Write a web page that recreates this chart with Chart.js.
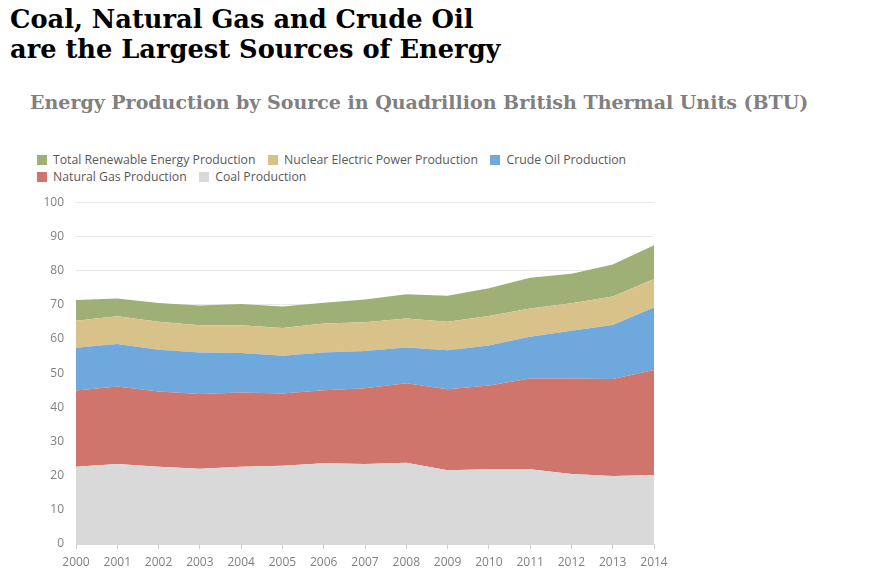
<!DOCTYPE html>
<html>
<head>
<meta charset="utf-8">
<script src="https://cdn.jsdelivr.net/npm/chart.js@4"></script>
<style>
  html, body { margin: 0; padding: 0; background: #fff; }
  body { width: 881px; height: 579px; position: relative; overflow: hidden; }
  #title {
    position: absolute; left: 10px; top: 4px;
    font: bold 25.7px/30px "DejaVu Serif", Georgia, serif; color: #000;
  }
  #subtitle {
    position: absolute; left: 30px; top: 90px;
    font: bold 19px/24px "DejaVu Serif", Georgia, serif; color: #808080;
  }
  #legend {
    position: absolute; left: 37px; top: 151px; width: 610px;
    font: 12.25px/17px "Open Sans", sans-serif; color: #595959;
    display: flex; flex-wrap: wrap;
  }
  #legend .item { display: flex; align-items: center; margin-right: 12.5px; white-space: nowrap; }
  #legend .box { width: 10px; height: 10px; margin-right: 6px; }
  #wrap { position: absolute; left: 30px; top: 183px; width: 650px; height: 391px; }
</style>
</head>
<body>
<div id="title">Coal, Natural Gas and Crude Oil<br>are the Largest Sources of Energy</div>
<div id="subtitle">Energy Production by Source in Quadrillion British Thermal Units (BTU)</div>
<div id="legend"></div>
<div id="wrap"><canvas id="chart"></canvas></div>
<script>
const years = ['2000','2001','2002','2003','2004','2005','2006','2007','2008','2009','2010','2011','2012','2013','2014']
const coal = [22.6, 23.4, 22.6, 22.0, 22.6, 22.9, 23.6, 23.4, 23.8, 21.6, 21.9, 21.9, 20.5, 19.9, 20.2]
const naturalGas = [22.3, 22.7, 22.0, 21.9, 21.7, 21.1, 21.4, 22.2, 23.2, 23.7, 24.5, 26.5, 27.9, 28.4, 30.7]
const crudeOil = [12.5, 12.4, 12.2, 12.1, 11.6, 11.1, 11.0, 10.9, 10.5, 11.4, 11.7, 12.2, 14.0, 15.8, 18.3]
const nuclear = [7.9, 8.1, 8.2, 8.0, 8.1, 8.1, 8.5, 8.4, 8.5, 8.3, 8.6, 8.3, 8.0, 8.3, 8.3]
const renewable = [6.1, 5.2, 5.5, 5.8, 6.2, 6.3, 6.1, 6.6, 7.1, 7.6, 8.1, 9.0, 8.7, 9.4, 9.9]

function series(label, data, color, fill) {
    return {
        label,
        data,
        backgroundColor: color,
        borderColor: color,
        borderWidth: 0,
        pointRadius: 0,
        fill,
        tension: 0
    }
}

// html legend, top layer first like the original
function buildLegend(chart) {
    const box = document.getElementById('legend')
    chart.data.datasets.slice().reverse().forEach(ds => {
        const item = document.createElement('span')
        item.className = 'item'
        const sw = document.createElement('span')
        sw.className = 'box'
        sw.style.background = ds.backgroundColor
        item.appendChild(sw)
        item.appendChild(document.createTextNode(ds.label))
        box.appendChild(item)
    })
}

const chart = new Chart(document.getElementById('chart').getContext('2d'), {
    type: 'line',
    data: {
        labels: years,
        datasets: [
            series('Coal Production', coal, '#d9d9d9', 'origin'),
            series('Natural Gas Production', naturalGas, '#d0756c', '-1'),
            series('Crude Oil Production', crudeOil, '#6fa8dc', '-1'),
            series('Nuclear Electric Power Production', nuclear, '#d8c28a', '-1'),
            series('Total Renewable Energy Production', renewable, '#9fb077', '-1')
        ]
    },
    options: {
        responsive: true,
        maintainAspectRatio: false,
        animation: false,
        layout: { padding: { left: 0, right: 26, top: 12, bottom: 0 } },
        plugins: {
            legend: { display: false },
            tooltip: { enabled: false }
        },
        scales: {
            x: {
                offset: false,
                afterFit: s => { s.height = 30 },
                grid: { display: true, drawOnChartArea: false, tickLength: 5, color: '#d0d0d0' },
                border: { color: '#d9d9d9' },
                ticks: { color: '#808080', font: { family: 'Open Sans', size: 12 }, maxRotation: 0, autoSkip: false, padding: 6 }
            },
            y: {
                stacked: true,
                min: 0,
                max: 100,
                afterFit: s => { s.width = 46 },
                ticks: { stepSize: 10, color: '#808080', font: { family: 'Open Sans', size: 12 }, padding: 12 },
                grid: { color: '#e8e8e8', drawTicks: false },
                border: { display: false }
            }
        }
    }
})

buildLegend(chart)
</script>
</body>
</html>
